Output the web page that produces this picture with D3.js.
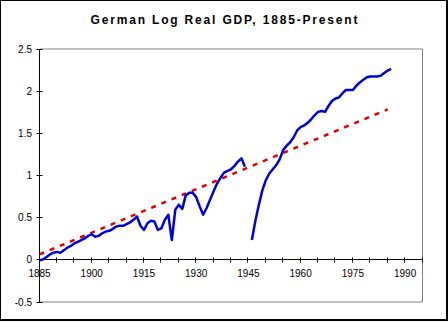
<!DOCTYPE html>
<html>
<head>
<meta charset="utf-8">
<script src="https://cdn.jsdelivr.net/npm/d3@7"></script>
<style>
  body { margin: 0; background: #fff; }
  text { font-family: 'Liberation Sans', Arial, sans-serif; }
</style>
</head>
<body>
<div id="container"></div>
<script>
const years = d3.range(1885, 1987);
const logGdp = [
  0.00, 0.01, 0.04, 0.07, 0.09, 0.10, 0.09, 0.12, 0.15, 0.17,
  0.20, 0.22, 0.24, 0.26, 0.29, 0.31, 0.28, 0.29, 0.32, 0.34,
  0.35, 0.37, 0.40, 0.41, 0.41, 0.43, 0.45, 0.48, 0.52, 0.41,
  0.36, 0.44, 0.47, 0.46, 0.36, 0.38, 0.48, 0.54, 0.24, 0.60,
  0.66, 0.61, 0.77, 0.80, 0.80, 0.75, 0.64, 0.54, 0.62, 0.72,
  0.82, 0.91, 0.98, 1.04, 1.06, 1.08, 1.12, 1.17, 1.21, 1.11,
  null, 0.24, 0.47, 0.66, 0.83, 0.95, 1.03, 1.08, 1.13, 1.20,
  1.31, 1.36, 1.40, 1.46, 1.54, 1.58, 1.60, 1.63, 1.67, 1.72,
  1.76, 1.77, 1.76, 1.83, 1.89, 1.92, 1.93, 1.98, 2.02, 2.02,
  2.02, 2.07, 2.11, 2.14, 2.17, 2.18, 2.18, 2.18, 2.19, 2.22,
  2.25, 2.27
];
// linear trend, drawn between its two end years
const trendYears = [1885, 1985];
const trendValues = [0.07, 1.79];

const xTicks = d3.range(1885, 1996, 5);
const xLabels = [1885, 1900, 1915, 1930, 1945, 1960, 1975, 1990];
const yTicks = [-0.5, 0, 0.5, 1, 1.5, 2, 2.5];
const title = 'German Log Real GDP, 1885-Present';

const width = 448, height = 322;

const svg = d3.select('#container').append('svg')
  .attr('width', width)
  .attr('height', height);

svg.append('rect')
  .attr('width', width)
  .attr('height', height)
  .style('fill', '#fff');

// chart frame with the thicker right / bottom edge
svg.append('rect')
  .attr('x', 0.5).attr('y', 0.5)
  .attr('width', 446).attr('height', 319)
  .style('fill', 'none')
  .style('stroke', '#000');
svg.append('rect')
  .attr('x', 446).attr('y', 0)
  .attr('width', 2).attr('height', 321)
  .style('fill', '#000');
svg.append('rect')
  .attr('x', 0).attr('y', 319)
  .attr('width', 448).attr('height', 2)
  .style('fill', '#000');

svg.append('text')
  .attr('x', 224)
  .attr('y', 24)
  .attr('text-anchor', 'middle')
  .attr('textLength', 267)
  .attr('lengthAdjust', 'spacing')
  .style('font-size', '12px')
  .style('font-weight', 'bold')
  .text(title);

const x = d3.scaleLinear().domain([1885, 1995]).range([39.5, 422.5]);
const y = d3.scaleLinear().domain([-0.5, 2.5]).range([302.5, 49.5]);

// plot area outline (grey top, right, bottom)
svg.append('path')
  .attr('d', 'M' + x(1885) + ',' + (y(2.5) - 0.5) + 'H' + x(1995) + 'V' + (y(-0.5) - 0.5) + 'H' + x(1885))
  .style('fill', 'none')
  .style('stroke', '#808080');

// y axis
const yAxis = svg.append('g').attr('class', 'y axis');
yAxis.append('line')
  .attr('x1', x(1885)).attr('x2', x(1885))
  .attr('y1', y(2.5) - 0.5).attr('y2', y(-0.5) - 0.5)
  .style('stroke', '#000');
const yTick = yAxis.selectAll('.tick')
  .data(yTicks)
  .enter().append('g')
  .attr('class', 'tick')
  .attr('transform', function (d) { return 'translate(0,' + (Math.round(y(d)) - 0.5) + ')'; });
yTick.append('line')
  .attr('x1', x(1885) - 3).attr('x2', x(1885) + 3)
  .style('stroke', '#000');
yTick.append('text')
  .attr('x', 32)
  .attr('dy', '0.35em')
  .attr('text-anchor', 'end')
  .style('font-size', '10px')
  .text(function (d) { return d; });

// x axis at zero
const xAxis = svg.append('g').attr('class', 'x axis')
  .attr('transform', 'translate(0,' + (Math.round(y(0)) - 0.5) + ')');
xAxis.append('line')
  .attr('x1', x(1885)).attr('x2', x(1995))
  .style('stroke', '#000');
xAxis.selectAll('.tick')
  .data(xTicks)
  .enter().append('line')
  .attr('class', 'tick')
  .attr('x1', function (d) { return Math.round(x(d)) - 0.5; })
  .attr('x2', function (d) { return Math.round(x(d)) - 0.5; })
  .attr('y1', -2).attr('y2', 3)
  .style('stroke', '#000');
xAxis.selectAll('.label')
  .data(xLabels)
  .enter().append('text')
  .attr('class', 'label')
  .attr('x', function (d) { return x(d); })
  .attr('y', 17.5)
  .attr('text-anchor', 'middle')
  .style('font-size', '10px')
  .text(function (d) { return d; });

const gdpPoints = years.map(function (yr, i) { return { year: yr, v: logGdp[i] }; });
const trendPoints = trendYears.map(function (yr, i) { return { year: yr, v: trendValues[i] }; });

const line = d3.line()
  .defined(function (d) { return d.v !== null; })
  .x(function (d) { return x(d.year); })
  .y(function (d) { return y(d.v); });

svg.append('path')
  .datum(trendPoints)
  .attr('d', line)
  .style('fill', 'none')
  .style('stroke', '#e00000')
  .style('stroke-width', 2.5)
  .style('stroke-dasharray', '5,6');

svg.append('path')
  .datum(gdpPoints)
  .attr('d', line)
  .style('fill', 'none')
  .style('stroke', '#0000dd')
  .style('stroke-width', 2.5)
  .style('stroke-linejoin', 'round');
</script>
</body>
</html>
